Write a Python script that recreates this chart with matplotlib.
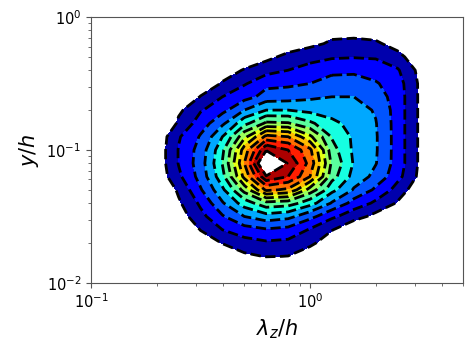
import numpy as np
import matplotlib
matplotlib.use("Agg")
import matplotlib.pyplot as plt

# grid nodes (log10 of lambda_z/h and y/h)
log_lambda = [-0.8, -0.7, -0.6, -0.5, -0.4, -0.3, -0.2, -0.1, 0.0, 0.1, 0.2, 0.3, 0.4, 0.5, 0.6, 0.7]
log_y = [0.0, -0.1, -0.2, -0.3, -0.4, -0.5, -0.6, -0.7, -0.8, -0.9, -1.0,
         -1.1, -1.2, -1.3, -1.4, -1.5, -1.6, -1.7, -1.8, -1.9, -2.0]

# spectrum values (contour-level units), rows follow log_y, columns follow log_lambda
spectrum = [
    [0, 0, 0, 0, 0, 0, 0, 0, 0, 0, 0, 0, 0, 0, 0, 0],
    [0, 0, 0, 0, 0, 0, 0, 0, 0.2, 0.5, 0.6, 0.5, 0.2, 0, 0, 0],
    [0, 0, 0, 0, 0, 0, 0, 0.2, 0.7, 1.2, 1.25, 1.15, 0.6, 0, 0, 0],
    [0, 0, 0, 0, 0, 0, 0.7, 1.35, 1.7, 1.9, 1.95, 1.9, 1.3, 0.3, 0, 0],
    [0, 0, 0, 0, 0.4, 1.1, 1.6, 2.0, 2.3, 2.6, 2.7, 2.5, 2.1, 0.7, 0, 0],
    [0, 0, 0, 0.2, 1.1, 1.9, 2.7, 2.8, 3.0, 3.6, 3.6, 3.1, 2.4, 0.85, 0, 0],
    [0, 0, 0, 1.05, 2.0, 2.6, 3.4, 3.5, 3.8, 4.0, 4.0, 3.5, 2.5, 0.85, 0, 0],
    [0, 0, 0.8, 1.9, 2.7, 4.0, 5.0, 5.0, 4.7, 4.6, 4.4, 3.9, 2.5, 0.85, 0, 0],
    [0, -0.5, 1.2, 2.5, 3.8, 5.7, 7.2, 7.1, 6.2, 5.2, 4.7, 4.05, 2.5, 0.85, 0, 0],
    [0, 0.3, 1.9, 3.1, 5.0, 7.7, 10.3, 10.0, 8.2, 5.9, 4.8, 4.1, 2.5, 0.85, 0, 0],
    [0, 0.36, 2.05, 3.45, 5.8, 9.5, 12.9, 12.0, 10.2, 6.4, 4.8, 4.1, 2.5, 0.85, 0, 0],
    [0, 0.36, 2.05, 3.55, 6.05, 10.0, 15.0, 12.9, 10.6, 6.8, 4.9, 4.05, 2.5, 0.85, 0, 0],
    [0, 0.3, 1.8, 3.4, 5.7, 9.3, 12.9, 12.0, 10.0, 6.4, 4.6, 3.7, 2.3, 0.75, 0, 0],
    [0, -0.3, 1.2, 2.9, 4.8, 7.4, 10.2, 9.8, 7.6, 5.3, 3.9, 2.8, 1.6, 0.2, 0, 0],
    [0, 0, 0.85, 2.2, 3.9, 5.5, 6.7, 6.5, 5.4, 3.9, 2.6, 1.8, 0.9, 0, 0, 0],
    [0, 0, 0.5, 1.7, 2.9, 4.0, 4.6, 4.3, 3.3, 2.2, 1.4, 0.7, -0.2, 0, 0, 0],
    [0, 0, -0.5, 1.05, 2.0, 2.6, 2.9, 2.7, 1.9, 1.05, 0.2, -0.5, 0, 0, 0, 0],
    [0, 0, 0, 0.2, 1.05, 1.6, 1.85, 1.75, 1.2, 0.4, -0.2, 0, 0, 0, 0, 0],
    [0, 0, 0, 0, 0.1, 0.8, 1.05, 0.98, 0.5, -0.3, 0, 0, 0, 0, 0, 0],
    [0, 0, 0, 0, 0, -0.3, -0.2, -0.2, -0.4, 0, 0, 0, 0, 0, 0, 0],
    [0, 0, 0, 0, 0, 0, 0, 0, 0, 0, 0, 0, 0, 0, 0, 0],
]

contour_levels = [1, 2, 3, 4, 5, 6, 7, 8, 9, 10, 11, 12, 13]

lam = 10.0 ** np.array(log_lambda)
yy = 10.0 ** np.array(log_y)
Z = np.array(spectrum)

fig = plt.figure(figsize=(4.74, 3.55), dpi=100)
ax = fig.add_axes([0.192, 0.203, 0.785, 0.749])

ax.contourf(lam, yy, Z, levels=contour_levels, cmap="jet",
            vmin=contour_levels[0], vmax=contour_levels[-1])
ax.contour(lam, yy, Z, levels=contour_levels, colors="k",
           linestyles="dashed", linewidths=2.0)

ax.set_xscale("log")
ax.set_yscale("log")
ax.set_xlim(0.1, 5.0)
ax.set_ylim(0.01, 1.0)

for sp in ax.spines.values():
    sp.set_color("#555555")
ax.tick_params(labelsize=10.5, colors="#555555", labelcolor="black")
ax.tick_params(which="minor", colors="#555555")

ax.set_xlabel(r"$\lambda_z/h$", fontsize=15)
ax.set_ylabel(r"$y/h$", fontsize=15)

fig.savefig("out.png", dpi=100)
